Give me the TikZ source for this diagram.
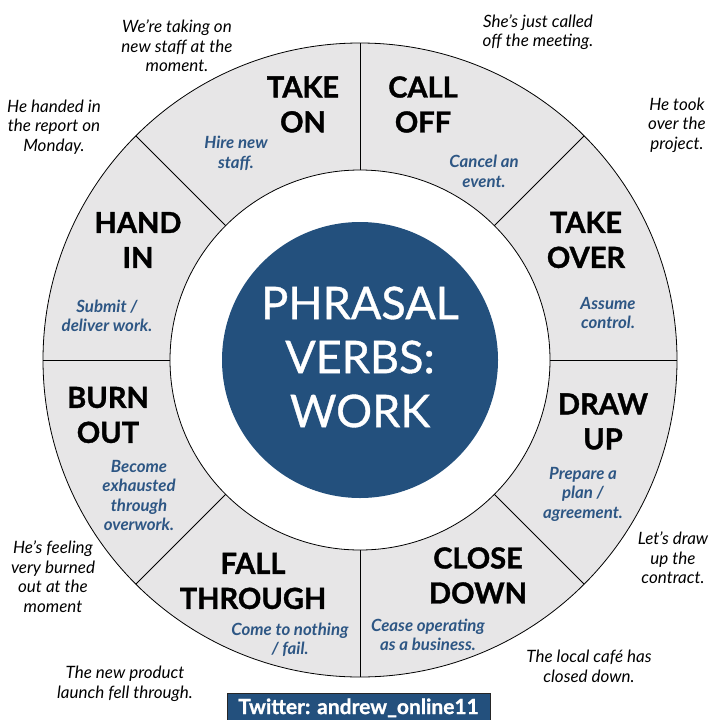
\documentclass[tikz,border=0pt]{standalone}
\usepackage{fontspec}
\usetikzlibrary{calc}
\setmainfont{Lato}
\definecolor{ringgray}{HTML}{E7E6E7}
\definecolor{darkblue}{HTML}{23507D}
\definecolor{defblue}{HTML}{2D5684}
\begin{document}
\begin{tikzpicture}[x=1pt,y=-1pt,
  verb/.style={align=center,font=\fontsize{29}{35}\selectfont\bfseries\addfontfeature{FakeBold=1.2},text=black,inner sep=0pt},
  meaning/.style={align=center,font=\fontsize{16.8}{19.5}\selectfont\bfseries\itshape,text=defblue,inner sep=0pt},
  example/.style={align=center,font=\fontsize{17}{19.5}\selectfont\itshape,text=black,inner sep=0pt},
  ringline/.style={draw=black,line width=0.8pt}]
\useasboundingbox[fill=white] (0,0) rectangle (720,720);
\coordinate (c) at (360,360);
% ring
\fill[ringgray,even odd rule] (c) circle[radius=317pt] (c) circle[radius=190pt];
\draw[ringline] (c) circle[radius=317pt];
\draw[ringline] (c) circle[radius=190pt];
\foreach \a in {0,45,...,315}
  \draw[ringline] ($(c)+(\a:190pt)$) -- ($(c)+(\a:317pt)$);
% centre
\fill[darkblue] (c) circle[radius=138pt];
\node[align=center,text=white,font=\fontsize{45}{54}\selectfont\addfontfeature{FakeBold=0.8},inner sep=0pt] (title) at (360,357) {PHRASAL\\VERBS:\\WORK};
% verbs
\node[verb] (takeon) at (303,104.5) {TAKE\\ON};
\node[meaning] (takeondef) at (236,153.5) {Hire new\\staff.};
\node[example] (takeonex) at (177,46) {We’re taking on\\new staff at the\\moment.};
\node[verb] (calloff) at (423,104.5) {CALL\\OFF};
\node[meaning] (calloffdef) at (484,171.5) {Cancel an\\event.};
\node[example] (calloffex) at (538,32) {She’s just called\\off the meeting.};
\node[verb] (takeover) at (586,240) {TAKE\\OVER};
\node[meaning] (takeoverdef) at (608,313) {Assume\\control.};
\node[example] (takeoverex) at (677,125) {He took\\over the\\project.};
\node[verb] (drawup) at (603,421.5) {DRAW\\UP};
\node[meaning] (drawupdef) at (583,494) {Prepare a\\plan /\\agreement.};
\node[example] (drawupex) at (673,558) {Let’s draw\\up the\\contract.};
\node[verb] (closedown) at (478,575.5) {CLOSE\\DOWN};
\node[meaning] (closedowndef) at (428,635) {Cease operating\\as a business.};
\node[example] (closedownex) at (589,666.5) {The local café has\\closed down.};
\node[verb] (fallthrough) at (253,581) {FALL\\THROUGH};
\node[meaning] (fallthroughdef) at (290,640) {Come to nothing\\/ fail.};
\node[example] (fallthroughex) at (125,684) {The new product\\launch fell through.};
\node[verb] (burnout) at (108,415) {BURN\\OUT};
\node[meaning] (burnoutdef) at (139,495.5) {Become\\exhausted\\through\\overwork.};
\node[example] (burnoutex) at (53,576.5) {He’s feeling\\very burned\\out at the\\moment};
\node[verb] (handin) at (138,240) {HAND\\IN};
\node[meaning] (handindef) at (107,316) {Submit /\\deliver work.};
\node[example] (handinex) at (54,127) {He handed in\\the report on\\Monday.};
% twitter
\node[draw=black!85,line width=0.6pt,fill=darkblue,minimum width=263pt,minimum height=30pt,inner sep=0pt,anchor=north,text=white,font=\fontsize{21}{24}\selectfont\bfseries\addfontfeature{FakeBold=1}] (twitter) at (358.5,692.5) {Twitter: andrew\_online11};
\end{tikzpicture}
\end{document}
